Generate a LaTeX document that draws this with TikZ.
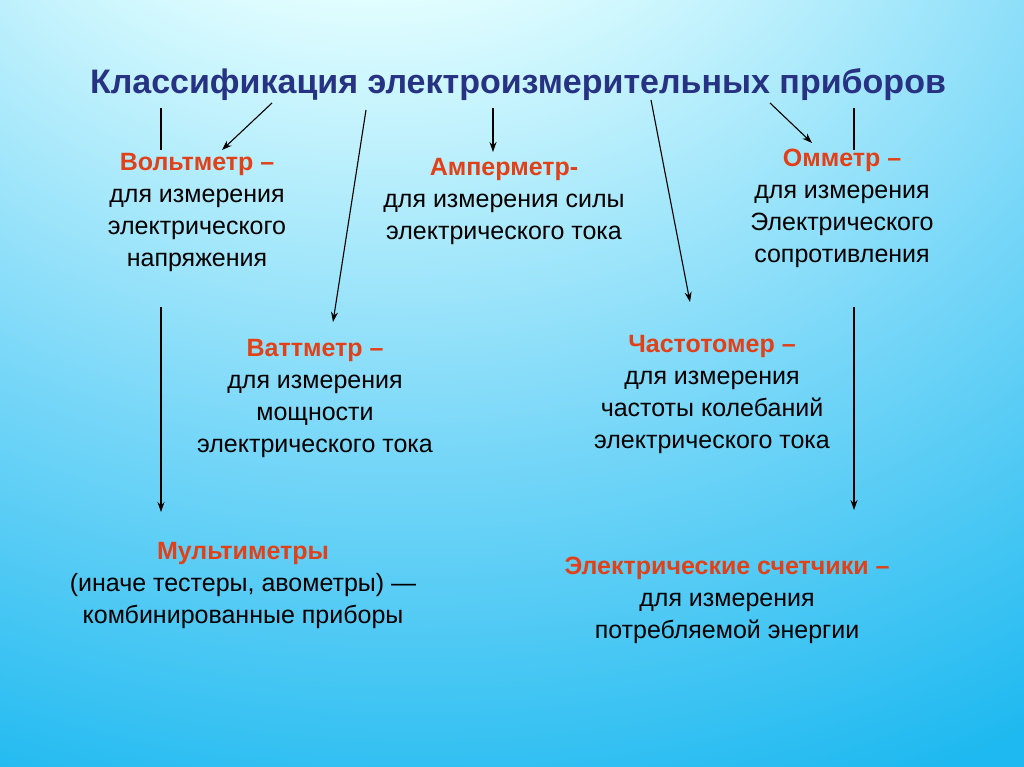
\documentclass[tikz,border=0pt]{standalone}
\usepackage{fontspec}
\setmainfont{Liberation Sans}
\usetikzlibrary{arrows.meta}
\definecolor{ttl}{RGB}{40,50,130}
\definecolor{hd}{RGB}{225,65,25}
\definecolor{cA}{RGB}{120,215,248}
\definecolor{cB}{RGB}{30,185,240}
\definecolor{cC}{RGB}{15,170,232}
\pgfdeclareradialshading{bgsh}{\pgfpoint{-8bp}{46bp}}{color(0bp)=(white); color(14bp)=(white!90!cyan); color(36bp)=(cA); color(55bp)=(cB); color(115bp)=(cC)}
\begin{document}
\begin{tikzpicture}[x=1pt,y=-1pt,
  txt/.style={align=center,font=\fontsize{25}{32}\selectfont,text=black,inner sep=0pt},
  arr/.style={-{Stealth[length=10pt,width=7pt]},line width=1.1pt},
  ln/.style={line width=1.1pt}]
\useasboundingbox (0,0) rectangle (1024,767);
\shade[shading=bgsh] (0,0) rectangle (1024,767);
\node[inner sep=0pt,text=ttl,font=\fontsize{34}{40}\selectfont\bfseries] (t) at (518,85) {Классификация электроизмерительных приборов};
\node[txt] (v) at (197,212) {\textcolor{hd}{\textbf{Вольтметр –}}\\для измерения\\электрического\\напряжения};
\node[txt] (a) at (504,201) {\textcolor{hd}{\textbf{Амперметр-}}\\для измерения силы\\электрического тока};
\node[txt] (o) at (842,208) {\textcolor{hd}{\textbf{Омметр –}}\\для измерения\\Электрического\\сопротивления};
\node[txt] (w) at (315,398) {\textcolor{hd}{\textbf{Ваттметр –}}\\для измерения\\мощности\\электрического тока};
\node[txt] (f) at (712,394) {\textcolor{hd}{\textbf{Частотомер –}}\\для измерения\\частоты колебаний\\электрического тока};
\node[txt] (m) at (243,585) {\textcolor{hd}{\textbf{Мультиметры}}\\(иначе тестеры, авометры) —\\комбинированные приборы};
\node[txt] (e) at (727,600) {\textcolor{hd}{\textbf{Электрические счетчики –}}\\для измерения\\потребляемой энергии};
\coordinate (p1) at (161,108); \coordinate (p2) at (161,150);
\coordinate (p3) at (854,108); \coordinate (p4) at (854,150);
\draw[ln] (p1) -- (p2);
\draw[ln] (p3) -- (p4);
\draw[arr] (272,103) -- (222,150);
\draw[arr] (366,110) -- (333,322);
\draw[arr] (493,108) -- (493,152);
\draw[arr] (651,100) -- (690,302);
\draw[arr] (770,103) -- (812,143);
\draw[arr] (161,307) -- (161,512);
\draw[arr] (854,307) -- (854,510);
\end{tikzpicture}
\end{document}
